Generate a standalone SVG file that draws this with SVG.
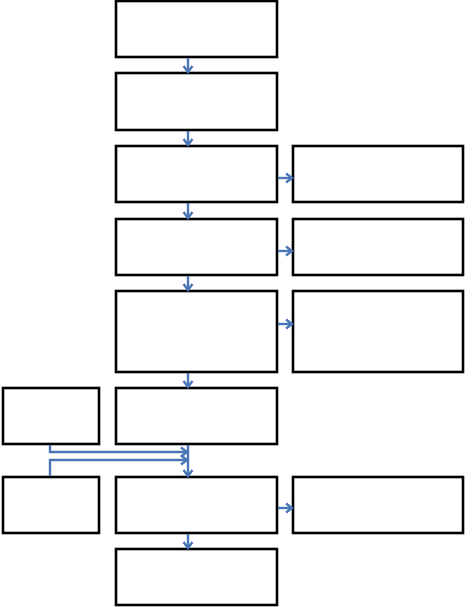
<svg xmlns="http://www.w3.org/2000/svg" width="474" height="607" viewBox="0 0 474 607">
<defs>
<style>
.box{fill:#ffffff;stroke:#000000;stroke-width:2.6}
.con{fill:none;stroke:#4A76B8;stroke-width:2.4}
</style>
<marker id="ah" markerUnits="userSpaceOnUse" markerWidth="12" markerHeight="12" refX="9" refY="6" orient="auto" viewBox="0 0 12 12">
<path d="M3,1.5 L9,6 L3,10.5" fill="none" stroke="#4A76B8" stroke-width="2.4"/>
</marker>
</defs>
<rect width="474" height="607" fill="#ffffff"/>
<g id="n1"><rect class="box" x="116" y="1" width="161" height="56"/></g>
<g id="n2"><rect class="box" x="116" y="73" width="161" height="57"/></g>
<g id="n3"><rect class="box" x="116" y="146" width="161" height="56"/></g>
<g id="n3r"><rect class="box" x="293" y="146" width="170" height="56"/></g>
<g id="n4"><rect class="box" x="116" y="219" width="161" height="56"/></g>
<g id="n4r"><rect class="box" x="293" y="219" width="170" height="56"/></g>
<g id="n5"><rect class="box" x="116" y="291" width="161" height="81"/></g>
<g id="n5r"><rect class="box" x="293" y="291" width="170" height="81"/></g>
<g id="n6"><rect class="box" x="116" y="388" width="161" height="56"/></g>
<g id="l1"><rect class="box" x="3" y="388" width="96" height="56"/></g>
<g id="l2"><rect class="box" x="3" y="477" width="96" height="56"/></g>
<g id="n7"><rect class="box" x="116" y="477" width="161" height="56"/></g>
<g id="n7r"><rect class="box" x="293" y="477" width="170" height="56"/></g>
<g id="n8"><rect class="box" x="116" y="549" width="161" height="56"/></g>
<g id="connectors">
<line class="con" x1="188" y1="58" x2="188" y2="72" marker-end="url(#ah)"/>
<line class="con" x1="188" y1="131" x2="188" y2="145" marker-end="url(#ah)"/>
<line class="con" x1="188" y1="203" x2="188" y2="218" marker-end="url(#ah)"/>
<line class="con" x1="188" y1="276" x2="188" y2="290" marker-end="url(#ah)"/>
<line class="con" x1="188" y1="373" x2="188" y2="387" marker-end="url(#ah)"/>
<line class="con" x1="188" y1="445" x2="188" y2="476" marker-end="url(#ah)"/>
<line class="con" x1="188" y1="534" x2="188" y2="548" marker-end="url(#ah)"/>
<line class="con" x1="278" y1="178" x2="292" y2="178" marker-end="url(#ah)"/>
<line class="con" x1="278" y1="251" x2="292" y2="251" marker-end="url(#ah)"/>
<line class="con" x1="278" y1="324" x2="292" y2="324" marker-end="url(#ah)"/>
<line class="con" x1="278" y1="508" x2="292" y2="508" marker-end="url(#ah)"/>
<polyline class="con" points="50,445 50,452 187,452" marker-end="url(#ah)"/>
<polyline class="con" points="50,476 50,460 187,460" marker-end="url(#ah)"/>
</g>
</svg>
